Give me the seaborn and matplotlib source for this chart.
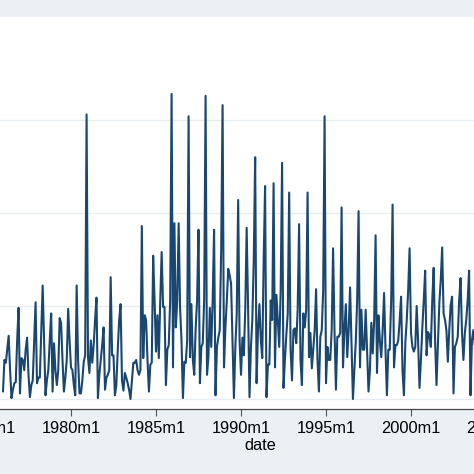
import matplotlib
matplotlib.use("Agg")
import matplotlib.pyplot as plt
import seaborn as sns
import numpy as np
import pandas as pd

# Monthly series, 1976m1 onwards (Stata %tm: months since 1960m1)
start_month = 192  # 1976m1
value = [
    8, 42, 39, 53, 68, 31, 1, 10, 17, 18, 63, 98,
    6, 44, 42, 31, 53, 66, 26, 2, 15, 20, 63, 104,
    17, 23, 23, 74, 122, 63, 4, 20, 31, 63, 92, 8,
    60, 31, 15, 31, 87, 82, 42, 8, 23, 42, 97, 63,
    34, 31, 15, 4, 122, 42, 6, 6, 20, 40, 47, 306,
    45, 28, 63, 39, 58, 85, 109, 1, 26, 42, 58, 77,
    10, 23, 26, 31, 131, 47, 47, 4, 15, 53, 85, 102,
    20, 9, 28, 23, 17, 10, 0, 20, 39, 39, 42, 31,
    26, 31, 186, 44, 90, 85, 42, 8, 37, 39, 154, 106,
    51, 90, 44, 106, 158, 99, 99, 15, 53, 58, 106, 328,
    34, 189, 77, 106, 189, 98, 63, 1, 40, 39, 63, 304,
    45, 102, 42, 26, 76, 106, 182, 17, 56, 60, 106, 326,
    26, 45, 98, 56, 106, 182, 4, 56, 66, 74, 160, 316,
    34, 77, 106, 140, 133, 124, 63, 1, 56, 92, 214, 63,
    26, 66, 47, 96, 184, 99, 2, 56, 85, 149, 260, 17,
    74, 102, 63, 44, 149, 229, 2, 37, 37, 106, 85, 232,
    34, 112, 85, 56, 117, 254, 12, 42, 69, 92, 222, 53,
    20, 74, 76, 60, 96, 188, 42, 15, 92, 77, 96, 222,
    45, 71, 33, 53, 74, 118, 42, 8, 67, 74, 117, 304,
    17, 56, 42, 42, 74, 162, 74, 10, 67, 67, 71, 206,
    34, 74, 102, 45, 74, 120, 58, 0, 31, 61, 106, 202,
    34, 96, 53, 53, 96, 53, 8, 31, 82, 49, 85, 176,
    28, 90, 63, 45, 74, 114, 53, 4, 53, 53, 106, 209,
    34, 58, 58, 63, 85, 110, 31, 4, 60, 85, 117, 162,
    71, 56, 51, 56, 100, 63, 12, 42, 77, 106, 138, 47,
    72, 69, 56, 106, 141, 63, 15, 60, 103, 128, 163, 92,
    85, 74, 40, 74, 101, 110, 6, 56, 60, 67, 106, 130,
    71, 42, 71, 85, 106, 138, 4, 63, 74, 58,
]

tick_labels = ["1975m1", "1980m1", "1985m1", "1990m1", "1995m1", "2000m1", "2005m1"]
tick_pos = [180, 240, 300, 360, 420, 480, 540]
grid_vals = [0, 100, 200, 300]

df = pd.DataFrame({"date": start_month + np.arange(len(value)), "value": value})

sns.set_theme(style="white")
plt.rcParams["font.family"] = ["Liberation Sans", "DejaVu Sans"]

W = H = 474
fig = plt.figure(figsize=(W / 100, H / 100), dpi=100)
bg = "#EAF0F3"
fig.patch.set_facecolor(bg)

# plot region (extends beyond the cropped figure edges)
left_px, right_px = -40, 520
bottom_px, top_px = 409, 17
ax = fig.add_axes([left_px / W, 1 - bottom_px / H,
                   (right_px - left_px) / W, (bottom_px - top_px) / H])
ax.set_facecolor("white")

sns.lineplot(data=df, x="date", y="value", ax=ax, color="#1A476F", linewidth=1.5)

px_per_month = 17 / 12
x0 = 192 + (left_px - 3) / px_per_month
x1 = 192 + (right_px - 3) / px_per_month
ax.set_xlim(x0, x1)
upp = 100 / 93
ax.set_ylim((399 - bottom_px) * upp, (399 - top_px) * upp)

ax.set_yticks(grid_vals)
ax.yaxis.grid(True, color="#E6ECEF", linewidth=1.0)
ax.xaxis.grid(False)
ax.tick_params(axis="y", left=False, labelleft=False)

ax.set_xticks(tick_pos)
ax.set_xticklabels(tick_labels)
ax.tick_params(axis="x", bottom=True, length=5, width=0.8, color="#555555",
               pad=3.5, labelsize=11.8, labelcolor="black")

for s in ["top", "left", "right"]:
    ax.spines[s].set_visible(False)
ax.spines["bottom"].set_color("#444444")
ax.spines["bottom"].set_linewidth(0.9)

ax.set_xlabel("date", fontsize=11.8, color="black")
ax.xaxis.set_label_coords((260 - left_px) / (right_px - left_px),
                          (bottom_px - 446) / (bottom_px - top_px))
ax.xaxis.label.set_va("center")
ax.set_ylabel("")

fig.savefig("out.png", dpi=100, facecolor=bg)
